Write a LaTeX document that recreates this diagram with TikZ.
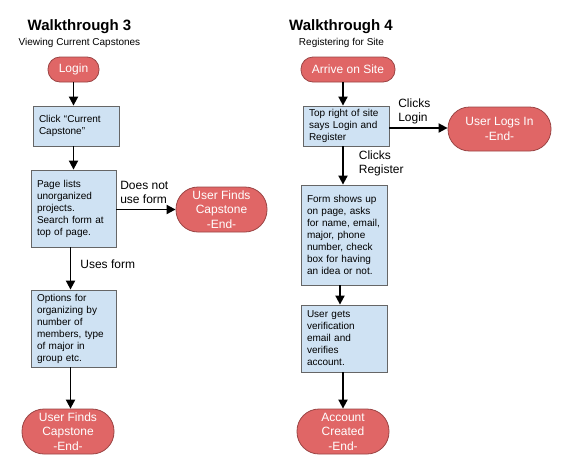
\documentclass[tikz,border=0pt]{standalone}
\usepackage{fontspec}
\setmainfont{Liberation Sans}
\usetikzlibrary{arrows.meta}
\definecolor{termfill}{HTML}{E06666}
\definecolor{termdraw}{HTML}{9A4444}
\definecolor{boxfill}{HTML}{CFE2F3}
\definecolor{boxdraw}{HTML}{666666}
\tikzset{
  terminal/.style={draw=termdraw, fill=termfill, line width=0.8pt, text=white,
    font=\fontsize{12}{14.5}\selectfont, align=center, inner sep=0pt},
  stepbox/.style={draw=boxdraw, fill=boxfill, line width=0.8pt, inner xsep=6pt, inner ysep=0pt,
    font=\fontsize{10}{12}\selectfont, align=left},
  conn/.style={line width=1.8pt, -{Triangle[length=9pt,width=9pt]}},
  lbl/.style={font=\fontsize{12}{14}\selectfont, align=left, inner sep=0pt},
  title/.style={font=\fontsize{15}{18}\selectfont\bfseries, inner sep=0pt},
  subtitle/.style={font=\fontsize{10}{12}\selectfont, inner sep=0pt}
}
\begin{document}
\begin{tikzpicture}[x=1pt,y=-1pt]
\useasboundingbox (0,0) rectangle (567,474);
% titles
\node[title] (t3) at (79.5,27) {Walkthrough 3};
\node[subtitle] (s3) at (79.5,43) {Viewing Current Capstones};
\node[title] (t4) at (341,27) {Walkthrough 4};
\node[subtitle] (s4) at (341.5,43) {Registering for Site};
% left column
\node[terminal, minimum width=51pt, minimum height=25pt, rounded corners=12pt] (login) at (73.5,69.5) {Login};
\node[stepbox, minimum height=40pt, text width=74pt] (click) at (76,126) {Click “Current\\Capstone”};
\node[stepbox, minimum height=77pt, text width=73pt] (plist) at (73.5,208.5) {Page lists\\unorganized\\projects.\\Search form at\\top of page.};
\node[terminal, minimum width=91pt, minimum height=45pt, rounded corners=22pt] (uf1) at (221.5,209.5) {User Finds\\Capstone\\-End-};
\node[stepbox, minimum height=77pt, text width=73pt] (opts) at (73.5,328.5) {Options for\\organizing by\\number of\\members, type\\of major in\\group etc.};
\node[terminal, minimum width=92pt, minimum height=45pt, rounded corners=22pt] (uf2) at (68,431.5) {User Finds\\Capstone\\-End-};
% right column
\node[terminal, minimum width=94pt, minimum height=25pt, rounded corners=12pt] (arrive) at (348,69.5) {Arrive on Site};
\node[stepbox, minimum height=40pt, text width=74pt] (top) at (346,126) {Top right of site\\says Login and\\Register};
\node[terminal, minimum width=103pt, minimum height=44pt, rounded corners=21.5pt] (logs) at (499.5,129) {User Logs In\\-End-};
\node[stepbox, minimum height=100pt, text width=74pt] (form) at (344,235) {Form shows up\\on page, asks\\for name, email,\\major, phone\\number, check\\box for having\\an idea or not.};
\node[stepbox, minimum height=67pt, text width=74pt] (verify) at (344,338.5) {User gets\\verification\\email and\\verifies\\account.};
\node[terminal, minimum width=92pt, minimum height=45pt, rounded corners=22pt] (acct) at (343,431.5) {Account\\Created\\-End-};
% connectors left
\draw[conn] (login) -- (login |- click.north);
\draw[conn] (plist |- click.south) -- (plist.north);
\draw[conn] (plist.east |- uf1) -- node[lbl, at start, anchor=south west, xshift=3pt, yshift=5pt] {Does not\\use form} (uf1.west);
\draw[conn] ([xshift=-3pt]plist.south) -- node[lbl, pos=0.4, anchor=west, xshift=9pt] {Uses form} ([xshift=-3pt]opts.north);
\draw[conn] ([xshift=-3pt]opts.south) -- ([xshift=-3pt]opts.south |- uf2.north);
% connectors right
\draw[conn] ([xshift=-5pt]arrive.south) -- ([xshift=-5pt]arrive.south |- top.north);
\draw[conn] ([yshift=-2pt]top.east) -- node[lbl, at start, anchor=south west, xshift=8pt, yshift=3.5pt] {Clicks\\Login} ([yshift=-2pt]top.east -| logs.west);
\draw[conn] ([xshift=-3pt]top.south) -- node[lbl, pos=0.44, anchor=west, xshift=15pt] {Clicks\\Register} ([xshift=-3pt]top.south |- form.north);
\draw[conn] ([xshift=-4pt]form.south) -- ([xshift=-4pt]form.south |- verify.north);
\draw[conn] (acct |- verify.south) -- (acct.north);
\end{tikzpicture}
\end{document}
